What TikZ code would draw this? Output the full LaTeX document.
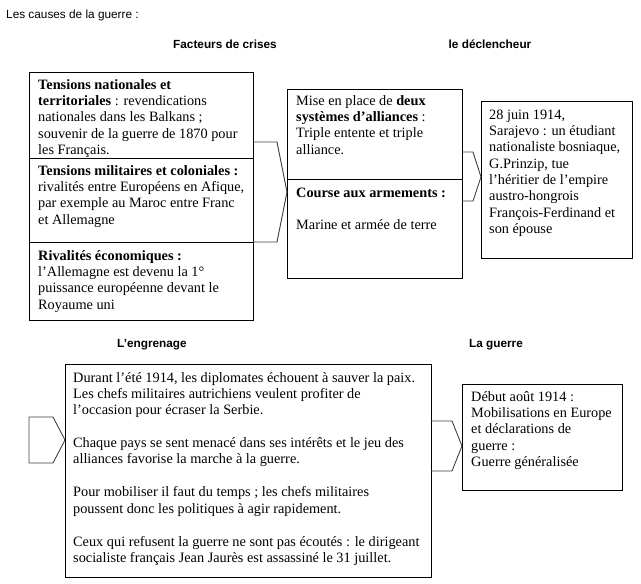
\documentclass[tikz,border=0pt]{standalone}
\usepackage{fontspec}
\setmainfont{Liberation Serif}
\setsansfont{Liberation Sans}

\begin{document}
\begin{tikzpicture}[x=1pt, y=-1pt,
  cadre/.style={draw, line width=0.9pt, outer sep=0pt, inner sep=0pt, anchor=north west},
  texte/.style={anchor=north west, inner sep=0pt, align=left, font=\fontsize{14.3}{16.3}\selectfont},
  titre/.style={anchor=base, font=\sffamily\bfseries\fontsize{11.8}{14}\selectfont},
  fleche/.style={draw=black!75, line width=0.9pt}]

\useasboundingbox (0,0) rectangle (641,584);

% Titles
\node[anchor=base west, inner sep=0pt, font=\sffamily\fontsize{11.8}{14}\selectfont] (intro) at (6,18) {Les causes de la guerre :};
\node[titre] (t-facteurs) at (225,48) {Facteurs de crises};
\node[titre] (t-declencheur) at (490,48) {le déclencheur};
\node[titre] (t-engrenage) at (152,347) {L’engrenage};
\node[titre] (t-guerre) at (496,347) {La guerre};

% Boxes
\node[cadre, minimum width=224pt, minimum height=248pt] (facteurs) at (29,72) {};
\node[cadre, minimum width=175pt, minimum height=189pt] (alliances) at (287,89) {};
\node[cadre, minimum width=151pt, minimum height=157pt] (declencheur) at (481,101) {};
\node[cadre, minimum width=366pt, minimum height=213pt] (engrenage) at (65,364) {};
\node[cadre, minimum width=160pt, minimum height=106pt] (guerre) at (462,384) {};

% Dividers
\draw[line width=0.9pt] (facteurs.west |- 0,158) -- (facteurs.east |- 0,158);
\draw[line width=0.9pt] (facteurs.west |- 0,242) -- (facteurs.east |- 0,242);
\draw[line width=0.9pt] (alliances.west |- 0,179) -- (alliances.east |- 0,179);

% Block arrows
\draw[fleche] (facteurs.east |- 0,142) -- (277,142) -- (alliances.west |- 0,192) -- (277,242) -- (facteurs.east |- 0,242);
\draw[fleche] (alliances.east |- 0,152) -- (473,152) -- (declencheur.west |- 0,177) -- (473,201) -- (alliances.east |- 0,201);
\draw[fleche] (29,417) -- (53,417) -- (engrenage.west |- 0,440) -- (53,463) -- (29,463) -- cycle;
\draw[fleche] (engrenage.east |- 0,421) -- (452,421) -- (guerre.west |- 0,446) -- (452,471) -- (engrenage.east |- 0,471);

% Texts
\node[texte] (nationales) at (38,77.6) {\strut\textbf{Tensions nationales et}\\
  \textbf{territoriales} : revendications\\
  nationales dans les Balkans ;\\
  souvenir de la guerre de 1870 pour\\
  les Français.};
\node[texte] (coloniales) at (38,163.6) {\strut\textbf{Tensions militaires et coloniales :}\\
  rivalités entre Européens en Afique,\\
  par exemple au Maroc entre Franc\\
  et Allemagne};
\node[texte] (economiques) at (38,248.6) {\strut\textbf{Rivalités économiques :}\\
  l’Allemagne est devenu la 1°\\
  puissance européenne devant le\\
  Royaume uni};
\node[texte] (systemes) at (296,93.6) {\strut Mise en place de \textbf{deux}\\
  \textbf{systèmes d’alliances} :\\
  Triple entente et triple\\
  alliance.};
\node[texte] (armements) at (296,185.6) {\strut\textbf{Course aux armements :}\\[16.3pt]
  Marine et armée de terre};
\node[texte] (sarajevo) at (489,107.6) {\strut 28 juin 1914,\\
  Sarajevo : un étudiant\\
  nationaliste bosniaque,\\
  G.Prinzip, tue\\
  l’héritier de l’empire\\
  austro-hongrois\\
  François-Ferdinand et\\
  son épouse};
\node[texte] (ete) at (73,370.6) {\strut Durant l’été 1914, les diplomates échouent à sauver la paix.\\
  Les chefs militaires autrichiens veulent profiter de\\
  l’occasion pour écraser la Serbie.\\[16pt]
  Chaque pays se sent menacé dans ses intérêts et le jeu des\\
  alliances favorise la marche à la guerre.\\[17pt]
  Pour mobiliser il faut du temps ; les chefs militaires\\
  poussent donc les politiques à agir rapidement.\\[17pt]
  Ceux qui refusent la guerre ne sont pas écoutés : le dirigeant\\
  socialiste français Jean Jaurès est assassiné le 31 juillet.};
\node[texte] (aout) at (471,389.6) {\strut Début août 1914 :\\
  Mobilisations en Europe\\
  et déclarations de\\
  guerre :\\
  Guerre généralisée};

\end{tikzpicture}
\end{document}
